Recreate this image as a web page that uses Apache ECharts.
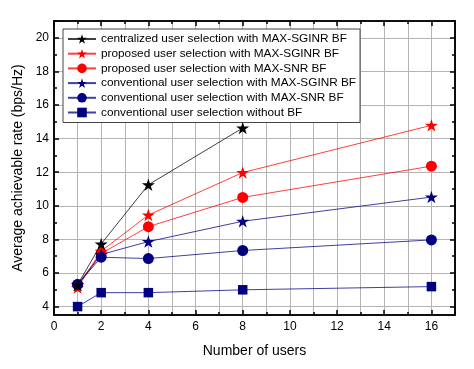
<!DOCTYPE html>
<html>
<head>
<meta charset="utf-8">
<script src="https://cdn.jsdelivr.net/npm/echarts@6/dist/echarts.min.js"></script>
<style>html,body{margin:0;padding:0;background:#fff;}#c{width:474px;height:369px;}</style>
</head>
<body>
<div id="c"></div>
<script>
const users = [1, 2, 4, 8, 16];
const centralizedSGINR = [5.3, 7.73, 11.25, 14.63];
const proposedSGINR = [5.13, 7.3, 9.45, 11.98, 14.79];
const proposedSNR = [5.32, 7.16, 8.76, 10.5, 12.36];
const conventionalSGINR = [5.28, 7.1, 7.87, 9.08, 10.52];
const conventionalSNR = [5.32, 6.94, 6.86, 7.34, 7.97];
const conventionalNoBF = [4.0, 4.83, 4.83, 5.0, 5.19];
const seriesNames = [
  'centralized user selection with MAX-SGINR BF',
  'proposed user selection with MAX-SGINR BF',
  'proposed user selection with MAX-SNR BF',
  'conventional user selection with MAX-SGINR BF',
  'conventional user selection with MAX-SNR BF',
  'conventional user selection without BF'
];
const xMajorTicks = [0, 2, 4, 6, 8, 10, 12, 14, 16];
const xMinorTicks = [1, 3, 5, 7, 9, 11, 13, 15, 17];
const yMajorTicks = [4, 6, 8, 10, 12, 14, 16, 18, 20];
const yMinorTicks = [5, 7, 9, 11, 13, 15, 17, 19, 21];

const STAR = 'path://M50,0 L61.2,34.5 L97.6,34.5 L68.2,55.9 L79.4,90.5 L50,69.1 L20.6,90.5 L31.8,55.9 L2.4,34.5 L38.8,34.5 Z';
const FONT = 'Liberation Sans, Arial, sans-serif';
const RED = '#ff0000';
const NAVY = '#000080';
const GRID = '#b4b4b4';

function pairs(vals) { return vals.map((v, i) => [users[i], v]); }

function xAx(pos, ticks, len, labels, split) {
  return {
    type: 'value', position: pos, min: 0, max: 17, interval: 1,
    axisLine: { show: true, onZero: false, lineStyle: { color: '#000', width: 1.5 } },
    axisTick: { show: true, inside: true, length: len, customValues: ticks, lineStyle: { color: '#000', width: 1.5 } },
    axisLabel: labels ? { show: true, customValues: xMajorTicks, color: '#000', fontSize: 12, fontFamily: FONT, margin: 6 } : { show: false },
    splitLine: { show: split, lineStyle: { color: GRID, width: 1 } },
    name: labels ? 'Number of users' : '', nameLocation: 'middle', nameGap: 29,
    nameTextStyle: { color: '#000', fontSize: 14, fontFamily: FONT }
  };
}
function yAx(pos, ticks, len, labels, split) {
  return {
    type: 'value', position: pos, min: 3.5, max: 21, interval: 0.5,
    axisLine: { show: true, onZero: false, lineStyle: { color: '#000', width: 1.5 } },
    axisTick: { show: true, inside: true, length: len, customValues: ticks, lineStyle: { color: '#000', width: 1.5 } },
    axisLabel: labels ? { show: true, customValues: yMajorTicks, color: '#000', fontSize: 12, fontFamily: FONT, margin: 5 } : { show: false },
    splitLine: { show: split, lineStyle: { color: GRID, width: 1 } },
    name: labels ? 'Average achievable rate (bps/Hz)' : '', nameLocation: 'middle', nameGap: 21,
    nameTextStyle: { color: '#000', fontSize: 14, fontFamily: FONT }
  };
}

function ser(name, vals, color, symbol, size, z) {
  return {
    name: name, type: 'line', data: pairs(vals), xAxisIndex: 0, yAxisIndex: 0,
    symbol: symbol, symbolSize: size, showSymbol: true, z: z,
    itemStyle: { color: color },
    lineStyle: { color: color, width: 1, opacity: 0.75 },
    emphasis: { disabled: true },
    animation: false
  };
}

const chart = echarts.init(document.getElementById('c'), null, { renderer: 'canvas' });
chart.setOption({
  animation: false,
  backgroundColor: '#fff',
  grid: { left: 54, right: 19, top: 21, bottom: 54, containLabel: false },
  xAxis: [
    xAx('bottom', xMajorTicks, 5, true, true),
    xAx('bottom', xMinorTicks, 3, false, true),
    xAx('top', xMajorTicks, 5, false, false),
    xAx('top', xMinorTicks, 3, false, false)
  ],
  yAxis: [
    yAx('left', yMajorTicks, 5, true, true),
    yAx('left', yMinorTicks, 3, false, false),
    yAx('right', yMajorTicks, 5, false, false),
    yAx('right', yMinorTicks, 3, false, false)
  ],
  legend: {
    show: true, orient: 'vertical', left: 63, top: 29,
    itemWidth: 28, itemHeight: 12, itemGap: 0.7,
    padding: [3, 4, 3, 4],
    backgroundColor: '#fff', borderColor: '#444', borderWidth: 1,
    textStyle: { color: '#000', fontSize: 11.8, lineHeight: 14, fontFamily: FONT, padding: [0, 0, 0, 0] },
    data: seriesNames
  },
  series: [
    ser(seriesNames[0], centralizedSGINR, '#000', STAR, [13, 12.5], 8),
    ser(seriesNames[1], proposedSGINR, RED, STAR, [13, 12.5], 3),
    ser(seriesNames[2], proposedSNR, RED, 'circle', 11, 4),
    ser(seriesNames[3], conventionalSGINR, NAVY, STAR, [13, 12.5], 5),
    ser(seriesNames[4], conventionalSNR, NAVY, 'circle', 11, 6),
    ser(seriesNames[5], conventionalNoBF, NAVY, 'rect', 9.5, 7)
  ]
});
</script>
</body>
</html>
